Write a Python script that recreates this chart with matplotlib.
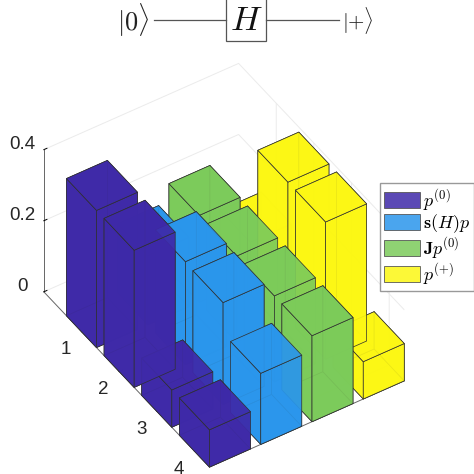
import matplotlib
matplotlib.use("Agg")
import matplotlib.pyplot as plt
from matplotlib.patches import Rectangle
from matplotlib.lines import Line2D
import numpy as np

plt.rcParams["font.family"] = ["Liberation Sans", "DejaVu Sans"]
plt.rcParams["mathtext.fontset"] = "cm"

# bar heights, one list per series, rows 1..4
p0 = [0.386, 0.386, 0.105, 0.105]
s_hp = [0.195, 0.29, 0.287, 0.2]
j_p0 = [0.244, 0.242, 0.242, 0.242]
p_plus = [0.105, 0.386, 0.386, 0.105]

series = [p0, s_hp, j_p0, p_plus]
colors = ["#3e29a8", "#2a96ec", "#7ccb5a", "#fcf714"]
labels = [r"$p^{(0)}$", r"$\mathbf{s}(H)p$", r"$\mathbf{J}p^{(0)}$", r"$p^{(+)}$"]
rows = [1, 2, 3, 4]
z_ticks = [0, 0.2, 0.4]
z_labels = ["0", "0.2", "0.4"]

BAR = 0.8
W = 474

fig = plt.figure(figsize=(4.74, 4.74), dpi=100)
ax = fig.add_axes([9.7 / W, -5.6 / W, 417.4 / W, 417.4 / W], projection="3d", proj_type="ortho")
ax.view_init(elev=43.2, azim=237.1)
ax.set_box_aspect((232, 305, 195))
ax.patch.set_alpha(0)

# all bars in one call so the depth sort works across series
xs, ys, tops, cols = [], [], [], []
for c, heights in enumerate(series):
    for r, h in zip(rows, heights):
        xs.append(c + 1 - BAR / 2)
        ys.append(r - BAR / 2)
        tops.append(h)
        cols.append(colors[c])

ax.bar3d(xs, ys, np.zeros(len(xs)), BAR, BAR, tops, color=cols, shade=False,
         edgecolor="#303030", linewidth=0.5, alpha=0.92)

ax.set_xlim(0.6, 4.4)
ax.set_ylim(4.4, 0)
ax.set_zlim(0, 0.4)
ax.set_xticks([])
ax.set_yticks(rows)
ax.set_yticklabels([str(r) for r in rows])
ax.set_zticks(z_ticks)
ax.set_zticklabels(z_labels)
ax.tick_params(axis="both", labelsize=13.5, labelcolor="#262626")
ax.tick_params(axis="z", pad=1.2)
ax.tick_params(axis="y", pad=4.5)
for t in ax.get_zticklabels() + ax.get_yticklabels():
    t.set_va("center")
for axis in (ax.xaxis, ax.yaxis, ax.zaxis):
    axis.set_pane_color((1, 1, 1, 0))
    axis.pane.set_edgecolor((1, 1, 1, 0))
    axis.line.set_color("#666666")
    axis.line.set_linewidth(0.7)
    axis._axinfo["grid"].update(color="#ebebeb", linewidth=0.7)
    axis._axinfo["tick"].update(inward_factor=0.0, outward_factor=0.2, color="#666666")
    axis._axinfo["tick"]["linewidth"] = {True: 0.7, False: 0.5}

# legend
handles = [Rectangle((0, 0), 1, 1, facecolor=c, edgecolor="#555555", linewidth=0.7, alpha=0.85) for c in colors]
fig.legend(handles, labels, loc="upper left", bbox_to_anchor=(380 / W, 1 - 183 / W),
           fontsize=13, fancybox=False, edgecolor="#999999", framealpha=1,
           handlelength=2.0, handleheight=1.0, handletextpad=0.2, labelspacing=0.0,
           borderpad=0.2, borderaxespad=0)

# circuit above the chart
tr = fig.transFigure
def py(y):
    return 1 - y / W
fig.add_artist(Line2D([154 / W, 226 / W], [py(20), py(20)], color="#555555", lw=0.9, transform=tr))
fig.add_artist(Line2D([266 / W, 339 / W], [py(20), py(20)], color="#555555", lw=0.9, transform=tr))
fig.add_artist(Rectangle((226 / W, py(41)), 40 / W, 45 / W, facecolor="white", edgecolor="#555555", lw=0.9, transform=tr))
fig.text(133 / W, py(20), r"$|0\rangle$", fontsize=19, ha="center", va="center", color="#222222")
fig.text(246 / W, py(20), r"$H$", fontsize=25, ha="center", va="center", color="#111111")
fig.text(358 / W, py(20), r"$|{+}\rangle$", fontsize=15, ha="center", va="center", color="#222222")

fig.savefig("out.png", dpi=100)
